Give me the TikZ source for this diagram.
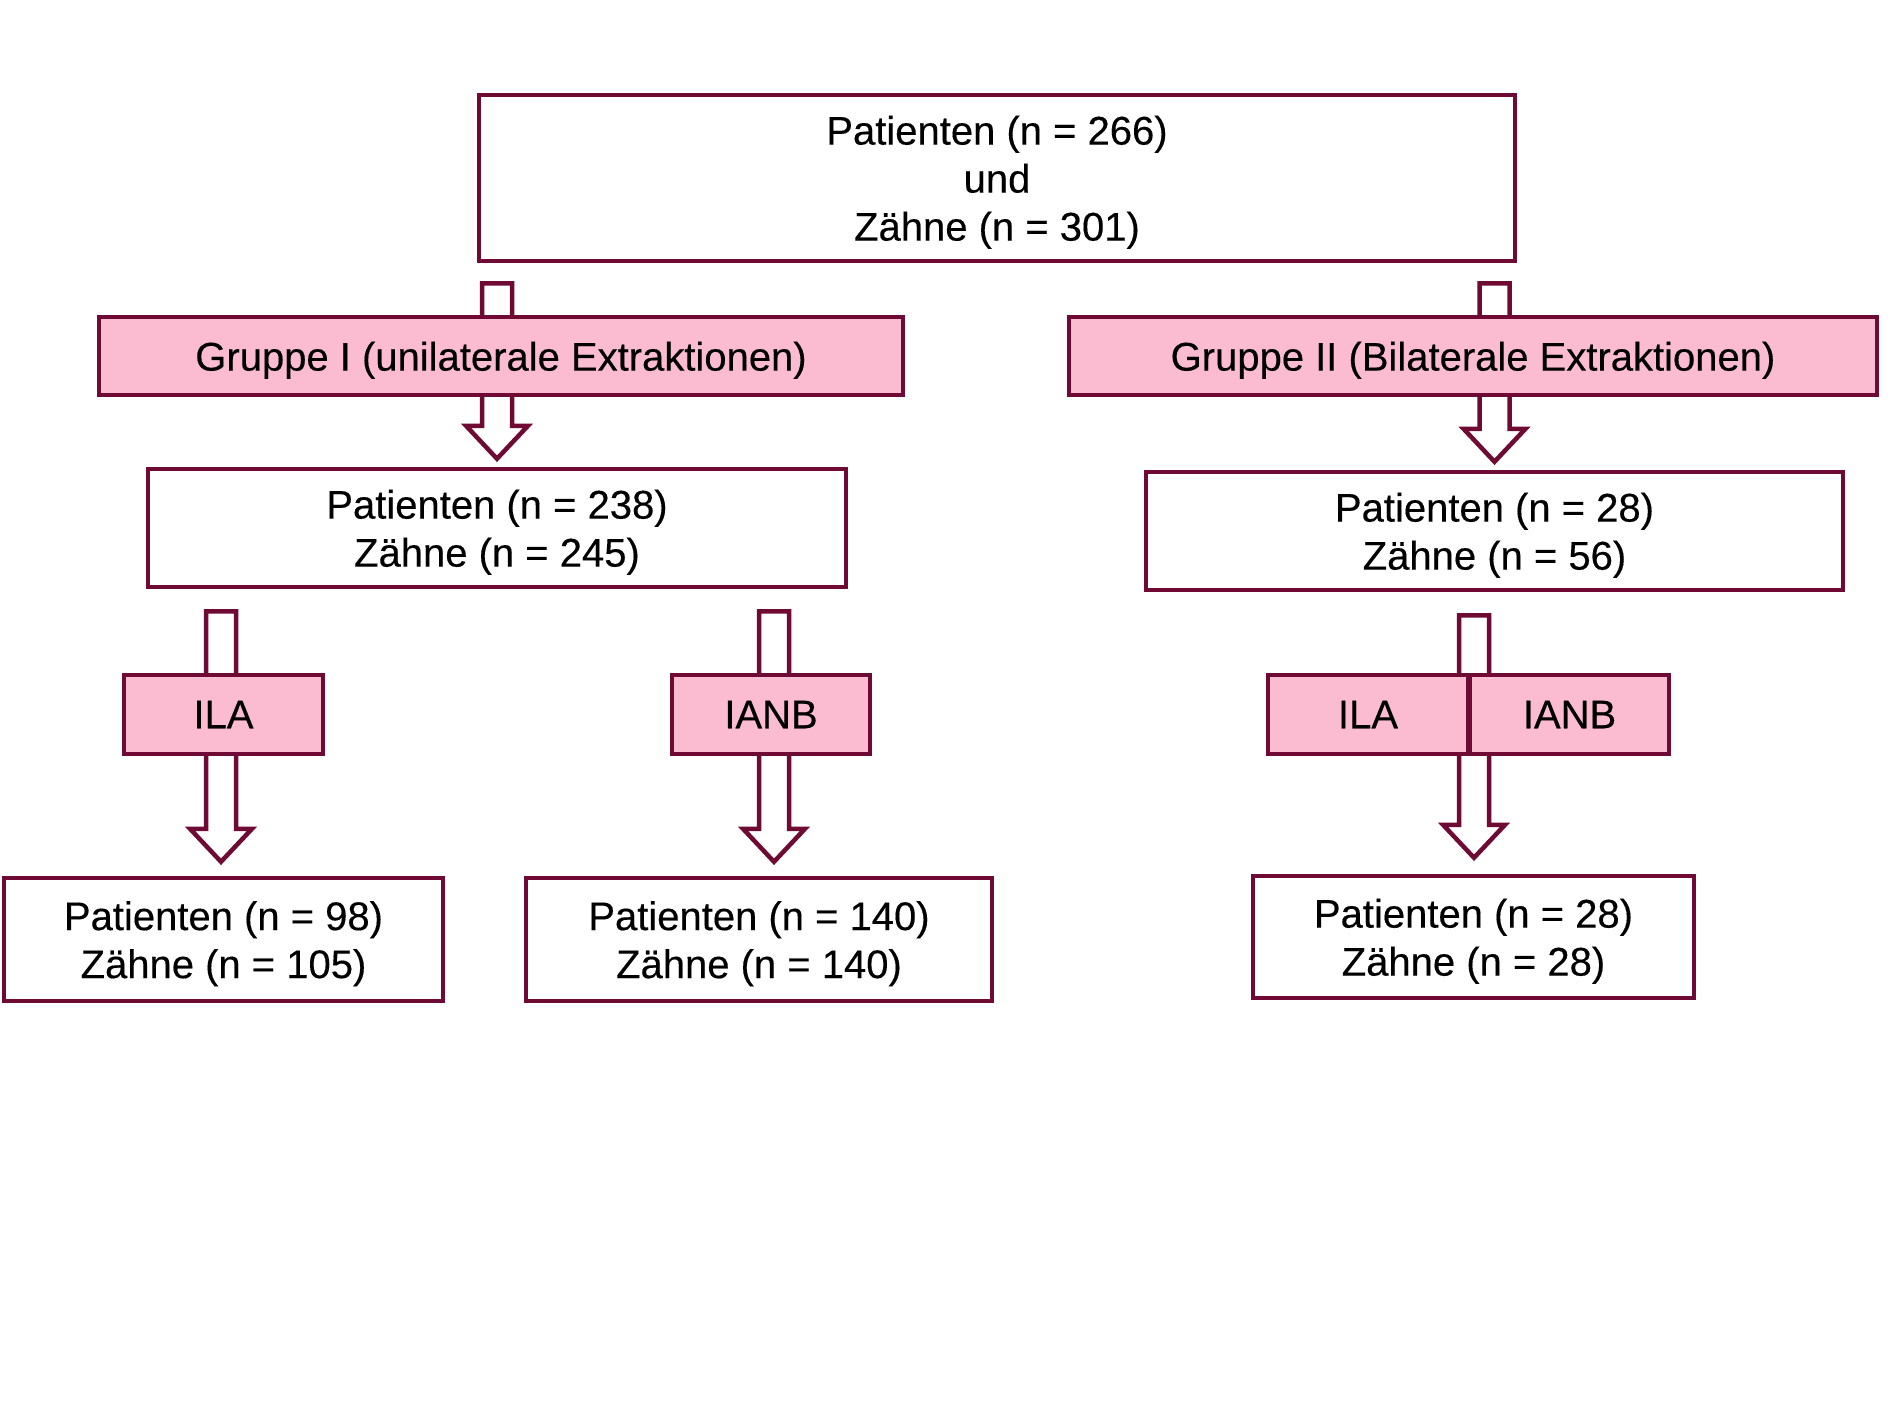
\documentclass[tikz,border=0pt]{standalone}
\usepackage{fontspec}
\setmainfont{Liberation Sans}
\newfontfamily\boxfont{Liberation Sans}[FakeBold=0.3]
\usetikzlibrary{calc}
\pgfdeclarelayer{paper}
\pgfdeclarelayer{arrowlayer}
\pgfsetlayers{paper,arrowlayer,main}
\definecolor{edge}{HTML}{6E0A33}
\definecolor{pinkfill}{HTML}{FBBCD2}
\tikzset{
  box/.style={draw=edge, line width=4.5pt, fill=white, rectangle, inner sep=0pt,
    font=\boxfont\fontsize{40}{48}\selectfont},
  pinkbox/.style={box, fill=pinkfill},
  hollowarrow/.style={draw=edge, line width=4.5pt, fill=white, line join=miter}
}
\newcommand\lowtext[1]{\raisebox{-5pt}[\height][\depth]{\begin{tabular}{@{}c@{}}#1\end{tabular}}}
\newcommand\blockarrowdraw[2]{%
  \draw[hollowarrow] ($(#1)+(-15,0)$) -- ($(#2)+(-15,-33)$) -- ($(#2)+(-31,-33)$)
    -- (#2) -- ($(#2)+(31,-33)$) -- ($(#2)+(15,-33)$) -- ($(#1)+(15,0)$) -- cycle;}
\begin{document}
\begin{tikzpicture}[x=1pt,y=-1pt]
\begin{pgfonlayer}{paper}
\fill[white] (0,0) rectangle (1900,1425);
\end{pgfonlayer}
\useasboundingbox (0,0) rectangle (1900,1425);

\node[box, minimum width=1036pt, minimum height=166pt] (top) at (997,178)
  {\lowtext{Patienten (n = 266)\\und\\Zähne (n = 301)}};

\node[pinkbox, minimum width=804pt, minimum height=78pt] (grp1) at (501,356)
  {\lowtext{Gruppe I (unilaterale Extraktionen)}};
\node[pinkbox, minimum width=808pt, minimum height=78pt] (grp2) at (1473,356)
  {\lowtext{Gruppe II (Bilaterale Extraktionen)}};

\node[box, minimum width=698pt, minimum height=118pt] (b238) at (497,528)
  {\lowtext{Patienten (n = 238)\\Zähne (n = 245)}};
\node[box, minimum width=697pt, minimum height=118pt] (b28) at (1494.5,531)
  {\lowtext{Patienten (n = 28)\\Zähne (n = 56)}};

\node[pinkbox, minimum width=199pt, minimum height=79pt] (ila1) at (223.5,714.5) {ILA};
\node[pinkbox, minimum width=198pt, minimum height=79pt] (ianb1) at (771,714.5) {IANB};
\node[pinkbox, minimum width=200pt, minimum height=79pt] (ila2) at (1368,714.5) {ILA};
\node[pinkbox, minimum width=199pt, minimum height=79pt] (ianb2) at (1569.5,714.5) {IANB};

\node[box, minimum width=439pt, minimum height=123pt] (bot1) at (223.5,939.5)
  {\lowtext{Patienten (n = 98)\\Zähne (n = 105)}};
\node[box, minimum width=466pt, minimum height=123pt] (bot2) at (759,939.5)
  {\lowtext{Patienten (n = 140)\\Zähne (n = 140)}};
\node[box, minimum width=441pt, minimum height=122pt] (bot3) at (1473.5,937)
  {\lowtext{Patienten (n = 28)\\Zähne (n = 28)}};

% arrow end points
\coordinate (a1s) at ($(top.south -| b238.north)+(0,20)$);
\coordinate (a1t) at ($(b238.north)+(0,-8)$);
\coordinate (a2s) at ($(top.south -| b28.north)+(0,20)$);
\coordinate (a2t) at ($(b28.north)+(0,-8)$);
\coordinate (a3s) at ($(b238.south -| 221,0)+(0,22)$);
\coordinate (a3t) at ($(bot1.north -| 221,0)+(0,-14)$);
\coordinate (a4s) at ($(b238.south -| 774,0)+(0,22)$);
\coordinate (a4t) at ($(bot2.north -| 774,0)+(0,-14)$);
\coordinate (a5s) at ($(b28.south -| 1474,0)+(0,23)$);
\coordinate (a5t) at ($(bot3.north -| 1474,0)+(0,-16)$);

\begin{pgfonlayer}{arrowlayer}
\blockarrowdraw{a1s}{a1t}
\blockarrowdraw{a2s}{a2t}
\blockarrowdraw{a3s}{a3t}
\blockarrowdraw{a4s}{a4t}
\blockarrowdraw{a5s}{a5t}
\end{pgfonlayer}
\end{tikzpicture}
\end{document}
